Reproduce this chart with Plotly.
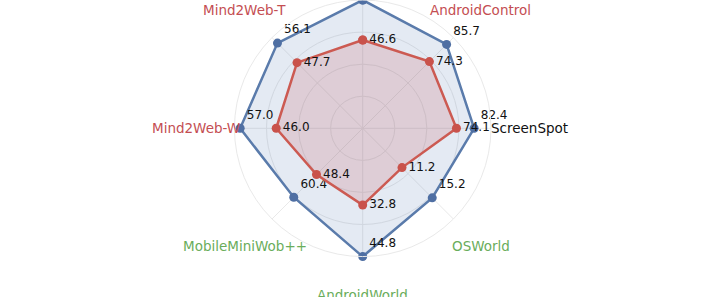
import math
import plotly.graph_objects as go

# ---- data (clockwise from the top axis) ----
categories = ["Mind2Web-D", "AndroidControl", "ScreenSpot", "OSWorld",
              "AndroidWorld", "MobileMiniWob++", "Mind2Web-W", "Mind2Web-T"]
label_colors = ["#c44e52", "#c44e52", "#111111", "#6aad5b",
                "#6aad5b", "#6aad5b", "#c44e52", "#c44e52"]
model_blue = [58.8, 85.7, 82.4, 15.2, 44.8, 60.4, 57.0, 56.1]
model_red = [46.6, 74.3, 74.1, 11.2, 32.8, 48.4, 46.0, 47.7]
# per-axis normalisation maximum (each axis scaled to its own best score)
axis_max = [58.8, 90.2, 90.3, 18.0, 44.8, 71.9, 58.75, 58.45]

W, H = 720, 297
R_MIN, R_MAX = 1 / 3, 1.0
DOMAIN_X = [0.3256, 0.6819]
DOMAIN_Y = [0.136, 1.0]
LABEL_PAD = 1.30          # category label distance, relative to polar radius


def norm(vals):
    return [v / m for v, m in zip(vals, axis_max)]


def closed(seq):
    return list(seq) + [seq[0]]


def labels(vals):
    return [f"{v:.1f}" for v in vals] + [""]


FONT = "DejaVu Sans"

fig = go.Figure()

fig.add_trace(go.Scatterpolar(
    r=closed(norm(model_blue)), theta=closed(categories),
    mode="lines+markers+text",
    text=labels(model_blue),
    textposition="top right",
    textfont=dict(family=FONT, size=12, color="#111111"),
    fill="toself", fillcolor="rgba(76,114,176,0.15)",
    line=dict(color="#5a7bab", width=2.5),
    marker=dict(color="#4f6fa3", size=9),
    showlegend=False, hoverinfo="skip",
))

fig.add_trace(go.Scatterpolar(
    r=closed(norm(model_red)), theta=closed(categories),
    mode="lines+markers+text",
    text=labels(model_red),
    textposition="middle right",
    textfont=dict(family=FONT, size=12, color="#111111"),
    fill="toself", fillcolor="rgba(196,78,82,0.18)",
    line=dict(color="#cc5a52", width=2.5),
    marker=dict(color="#c9524b", size=9),
    showlegend=False, hoverinfo="skip",
))

# category labels, centred on each spoke just outside the plot circle
cx = sum(DOMAIN_X) / 2
cy = sum(DOMAIN_Y) / 2
radius_px = min((DOMAIN_X[1] - DOMAIN_X[0]) * W, (DOMAIN_Y[1] - DOMAIN_Y[0]) * H) / 2
n = len(categories)
annotations = []
for i, (name, col) in enumerate(zip(categories, label_colors)):
    ang = math.radians(90 - 360 * i / n)
    annotations.append(dict(
        xref="paper", yref="paper",
        x=cx + LABEL_PAD * radius_px * math.cos(ang) / W,
        y=cy + LABEL_PAD * radius_px * math.sin(ang) / H,
        xanchor="center", yanchor="middle",
        text=name, showarrow=False,
        font=dict(family=FONT, size=13.5, color=col),
    ))

fig.update_layout(
    width=W, height=H,
    margin=dict(l=0, r=0, t=0, b=0),
    paper_bgcolor="white",
    annotations=annotations,
    polar=dict(
        domain=dict(x=DOMAIN_X, y=DOMAIN_Y),
        bgcolor="white",
        radialaxis=dict(range=[R_MIN, R_MAX], tickvals=[0.5, 2 / 3, 5 / 6],
                        showticklabels=False, ticks="", showline=False,
                        gridcolor="#e9e9e9", gridwidth=1),
        angularaxis=dict(direction="clockwise", rotation=90,
                         showticklabels=False, ticks="",
                         showline=True, linecolor="#e9e9e9", linewidth=1,
                         gridcolor="#e9e9e9", gridwidth=1),
    ),
)

fig.write_html("out.html")
